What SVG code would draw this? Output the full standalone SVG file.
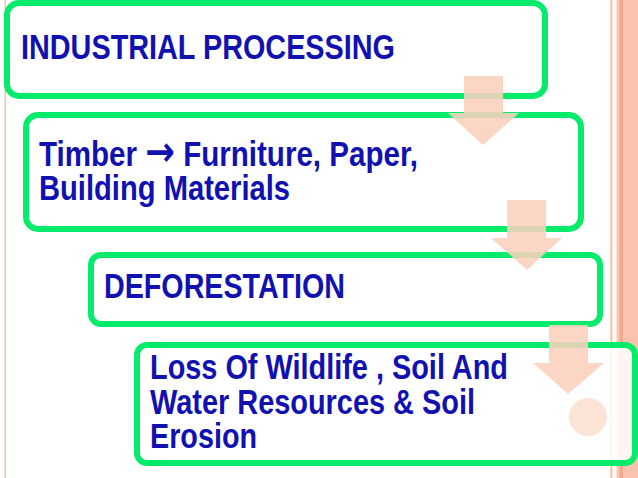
<svg xmlns="http://www.w3.org/2000/svg" width="638" height="478" viewBox="0 0 638 478">
<style>
.box{fill:#ffffff;stroke:#06eb6c;stroke-width:6}
.t{font-family:"Liberation Sans Narrow","Liberation Sans",Arial,sans-serif;font-weight:bold;font-size:35px;fill:#1111b2}
.sym{font-family:"DejaVu Sans",sans-serif;font-weight:bold;font-size:42px}
.arr{fill:#fad0bd;opacity:0.88}
</style>
<rect x="0" y="0" width="638" height="478" fill="#ffffff"/>
<rect x="4.5" y="0" width="1.6" height="478" fill="#f3c2b0"/>
<rect x="610" y="0" width="2.5" height="478" fill="#f7c9b8"/>
<rect x="616.5" y="0" width="21.5" height="478" fill="#fac3ad"/>
<rect x="619.5" y="0" width="3.5" height="478" fill="#efa88c"/>
<g id="node1">
<rect class="box" x="7" y="3" width="538" height="93" rx="12"/>
<text class="t" x="21" y="59" textLength="374" lengthAdjust="spacingAndGlyphs">INDUSTRIAL PROCESSING</text>
</g>
<g id="node2">
<rect class="box" x="26" y="115" width="555" height="114" rx="12"/>
<text class="t" x="39" y="166" textLength="379" lengthAdjust="spacingAndGlyphs">Timber <tspan class="sym">→</tspan> Furniture, Paper,</text>
<text class="t" x="39" y="200" textLength="251" lengthAdjust="spacingAndGlyphs">Building Materials</text>
</g>
<g id="node3">
<rect class="box" x="91" y="255" width="509" height="69" rx="10"/>
<text class="t" x="104" y="298" textLength="241" lengthAdjust="spacingAndGlyphs">DEFORESTATION</text>
</g>
<g id="node4">
<rect class="box" x="137" y="345" width="498" height="118" rx="10" style="fill-opacity:0.85"/>
<text class="t" x="150" y="379" textLength="358" lengthAdjust="spacingAndGlyphs">Loss Of Wildlife , Soil And</text>
<text class="t" x="150" y="414" textLength="325" lengthAdjust="spacingAndGlyphs">Water Resources &amp; Soil</text>
<text class="t" x="150" y="448" textLength="107" lengthAdjust="spacingAndGlyphs">Erosion</text>
</g>
<g id="connectors">
<path class="arr" d="M464,76 H503 V113 H519 L483,145 L448,113 H464 Z"/>
<path class="arr" d="M507,200 H546 V238 H562 L527,270 L491,238 H507 Z"/>
<path class="arr" d="M549,325 H588 V363 H604 L568,394 L533,363 H549 Z"/>
<circle cx="588" cy="417" r="19" fill="#fbe3d6"/>
</g>
</svg>
